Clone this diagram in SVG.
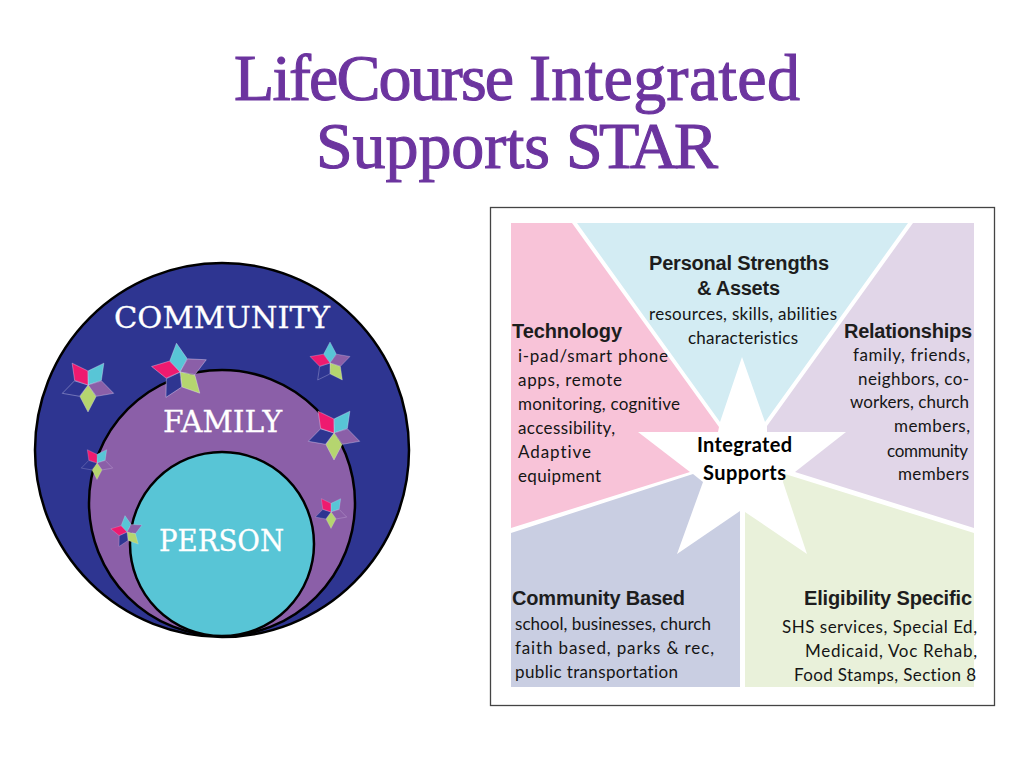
<svg xmlns="http://www.w3.org/2000/svg" xmlns:xlink="http://www.w3.org/1999/xlink" width="1024" height="768" viewBox="0 0 1024 768">
<style>
.title{font-family:"Liberation Serif",serif;font-size:66px;fill:#6c349f;stroke:#6c349f;stroke-width:1.100px}
.ring{font-family:"DejaVu Serif",serif;font-size:30px;fill:#fff;stroke:#fff;stroke-width:.3px}
.circ{stroke:#000;stroke-width:2.5}
.k{stroke:#efe9ff;stroke-width:1.200;vector-effect:non-scaling-stroke}
.head{font-family:"Liberation Sans",Arial,sans-serif;font-weight:700;font-size:20px;fill:#1d1d1d}
.body{font-family:Lato,"Open Sans",sans-serif;font-size:17px;fill:#151515;font-variant-ligatures:none}
.mid{font-family:Lato,"Open Sans",sans-serif;font-weight:700;font-size:20px;fill:#000}
</style>
<defs>
<polygon id="kite" points="0,0 30,-43 0,-100 -30,-43"/>
<g id="star">
<use xlink:href="#kite" href="#kite" class="k" fill="#58c5d6"/>
<use xlink:href="#kite" href="#kite" class="k" fill="#8b5fa8" transform="rotate(72)"/>
<use xlink:href="#kite" href="#kite" class="k" fill="#b5d56f" transform="rotate(144)"/>
<use xlink:href="#kite" href="#kite" class="k" fill="#2e3591" transform="rotate(216)"/>
<use xlink:href="#kite" href="#kite" class="k" fill="#ee1a6f" transform="rotate(288)"/>
</g>
</defs>
<rect width="1024" height="768" fill="#fff"/>
<g id="title">
<text class="title" y="100"><tspan x="234" textLength="280">LifeCourse</tspan> <tspan x="529" textLength="271">Integrated</tspan></text>
<text class="title" y="168"><tspan x="316" textLength="234">Supports</tspan> <tspan x="566" textLength="152">STAR</tspan></text>
</g>
<g id="community"><circle class="circ" cx="222" cy="450" r="187" fill="#2e3591"/><text class="ring" x="114" y="328" textLength="216" lengthAdjust="spacingAndGlyphs">COMMUNITY</text></g>
<g id="family"><circle class="circ" cx="222" cy="503" r="133" fill="#8b5fa8"/><text class="ring" x="163" y="432" textLength="119" lengthAdjust="spacingAndGlyphs">FAMILY</text></g>
<g id="person"><circle class="circ" cx="222" cy="544" r="92" fill="#58c5d6"/><text class="ring" x="159" y="551" textLength="125" lengthAdjust="spacingAndGlyphs">PERSON</text></g>
<g id="stars">
<use xlink:href="#star" href="#star" transform="translate(88 385) rotate(36) scale(.27)"/>
<use xlink:href="#star" href="#star" transform="translate(180 372) rotate(-7) scale(.29)"/>
<use xlink:href="#star" href="#star" transform="translate(330 363) scale(.21)"/>
<use xlink:href="#star" href="#star" transform="translate(334 433) rotate(36) scale(.27)"/>
<use xlink:href="#star" href="#star" transform="translate(97 463) rotate(36) scale(.165)"/>
<use xlink:href="#star" href="#star" transform="translate(331 512) rotate(36) scale(.165)"/>
<use xlink:href="#star" href="#star" transform="translate(127 532) rotate(-7) scale(.165)"/>
</g>
<g id="panel">
<rect x="490.500" y="207.500" width="504" height="498" fill="#fff" stroke="#444" stroke-width="1.300"/>
</g>
<g id="technology">
<polygon fill="#f8c3d8" points="511,223 572,223 719,427 718,432 638,432 690,472 511,528"/>
<text class="head" x="512" y="338" textLength="110">Technology</text>
<text class="body" x="518" y="362" textLength="150">i-pad/smart phone</text>
<text class="body" x="518" y="386" textLength="104">apps, remote</text>
<text class="body" x="518" y="410" textLength="162">monitoring, cognitive</text>
<text class="body" x="518" y="434" textLength="97">accessibility,</text>
<text class="body" x="518" y="458" textLength="73">Adaptive</text>
<text class="body" x="518" y="482" textLength="83">equipment</text>
</g>
<g id="strengths">
<polygon fill="#d3ecf3" points="577,223 908,223 765,422 742,357 720,422"/>
<text class="head" x="649" y="270" textLength="180">Personal Strengths</text>
<text class="head" x="697" y="295" textLength="83">&amp; Assets</text>
<text class="body" x="649" y="320" textLength="188">resources, skills, abilities</text>
<text class="body" x="688" y="344" textLength="110">characteristics</text>
</g>
<g id="relationships">
<polygon fill="#e1d6e8" points="913,223 974,223 974,528 795,472 846,432 767,432 767,426"/>
<text class="head" x="844" y="338" textLength="128">Relationships</text>
<text class="body" x="853" y="361" textLength="117">family, friends,</text>
<text class="body" x="858" y="385" textLength="111">neighbors, co-</text>
<text class="body" x="850" y="408" textLength="119">workers, church</text>
<text class="body" x="894" y="432" textLength="76">members,</text>
<text class="body" x="887" y="457" textLength="81">community</text>
<text class="body" x="898" y="480" textLength="71">members</text>
</g>
<g id="community-based">
<polygon fill="#c9cee2" points="511,533 693,474 703,482 677,554 740,511 740,687 511,687"/>
<text class="head" x="512" y="605" textLength="173">Community Based</text>
<text class="body" x="515" y="630" textLength="196">school, businesses, church</text>
<text class="body" x="515" y="654" textLength="199">faith based, parks &amp; rec,</text>
<text class="body" x="515" y="678" textLength="163">public transportation</text>
</g>
<g id="eligibility">
<polygon fill="#e9f1da" points="745,512 807,554 783,482 785,474 974,533 974,687 745,687"/>
<text class="head" x="804" y="605" textLength="168">Eligibility Specific</text>
<text class="body" x="782" y="633" textLength="195">SHS services, Special Ed,</text>
<text class="body" x="805" y="657" textLength="172">Medicaid, Voc Rehab,</text>
<text class="body" x="794" y="681" textLength="182">Food Stamps, Section 8</text>
</g>
<g id="integrated">
<text class="mid" x="697" y="452" textLength="95">Integrated</text>
<text class="mid" x="703" y="480" textLength="83">Supports</text>
</g>
</svg>
